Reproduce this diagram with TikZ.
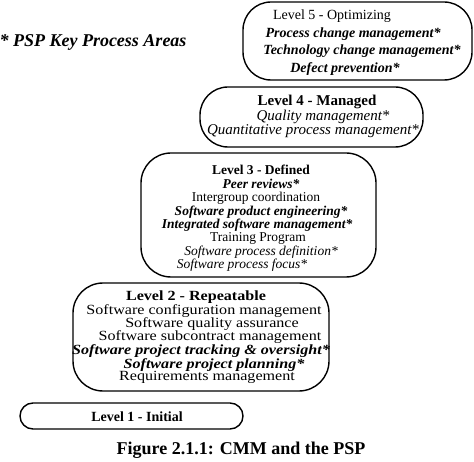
\documentclass[tikz,border=0pt]{standalone}
\usepackage{fontspec}
\setmainfont{Liberation Serif}
\newfontfamily\wideserif{Liberation Serif}[FakeStretch=1.15]
\begin{document}
\begin{tikzpicture}[x=1pt,y=-1pt,
  lvlbox/.style={draw, line width=1.4pt, rounded corners=#1},
  ln/.style={anchor=base, inner sep=0pt},
  fv/.style={font=\fontsize{14}{14}\selectfont},
  fiv/.style={font=\fontsize{15}{15}\selectfont},
  fiii/.style={font=\fontsize{13.5}{13.5}\selectfont},
  fii/.style={font=\wideserif\fontsize{14}{14}\selectfont},
  fi/.style={font=\fontsize{14}{14}\selectfont},
  captxt/.style={font=\fontsize{18}{18}\selectfont\bfseries}
]
\useasboundingbox (0,0) rectangle (474,462);
% boxes
\draw[lvlbox=28] (243,2) rectangle (472,80);
\draw[lvlbox=28] (200,87) rectangle (423,147);
\draw[lvlbox=30] (141,153) rectangle (376,277);
\draw[lvlbox=30] (73,283) rectangle (329,391);
\draw[lvlbox=13] (20,403) rectangle (243,429);
% legend
\node[ln, font=\fontsize{18}{18}\selectfont\bfseries\itshape] (leg) at (93,47) {* PSP Key Process Areas};
% level 5
\node[ln, fv] (l5a) at (332,20) {Level 5 - Optimizing};
\node[ln, fv] (l5b) at (353,38) {\bfseries\itshape Process change management*};
\node[ln, fv] (l5c) at (362,55) {\bfseries\itshape Technology change management*};
\node[ln, fv] (l5d) at (345,73) {\bfseries\itshape Defect prevention*};
% level 4
\node[ln, fiv] (l4a) at (317,106) {\bfseries Level 4 - Managed};
\node[ln, fiv] (l4b) at (323,120.5) {\itshape Quality management*};
\node[ln, fiv] (l4c) at (313,135) {\itshape Quantitative process management*};
% level 3
\node[ln, fiii] (l3a) at (261,174.5) {\bfseries Level 3 - Defined};
\node[ln, fiii] (l3b) at (261,188.5) {\bfseries\itshape Peer reviews*};
\node[ln, fiii] (l3c) at (256,202) {Intergroup coordination};
\node[ln, fiii] (l3d) at (261,215.5) {\bfseries\itshape Software product engineering*};
\node[ln, fiii] (l3e) at (257,229) {\bfseries\itshape Integrated software management*};
\node[ln, fiii] (l3f) at (258,242) {Training Program};
\node[ln, fiii] (l3g) at (261,256) {\itshape Software process definition*};
\node[ln, fiii] (l3h) at (242,269) {\itshape Software process focus*};
% level 2
\node[ln, fii] (l2a) at (196,300.5) {\bfseries Level 2 - Repeatable};
\node[ln, fii] (l2b) at (204,314.5) {Software configuration management};
\node[ln, fii] (l2c) at (212,327.5) {Software quality assurance};
\node[ln, fii] (l2d) at (210,340.5) {Software subcontract management};
\node[ln, fii] (l2e) at (201,355) {\bfseries\itshape Software project tracking \& oversight*};
\node[ln, fii] (l2f) at (214,368) {\bfseries\itshape Software project planning*};
\node[ln, fii] (l2g) at (207,381) {Requirements management};
% level 1
\node[ln, fi] (l1a) at (137,421) {\bfseries Level 1 - Initial};
% caption
\node[ln, captxt] (capt) at (241,454) {Figure 2.1.1: CMM and the PSP};
\end{tikzpicture}
\end{document}
